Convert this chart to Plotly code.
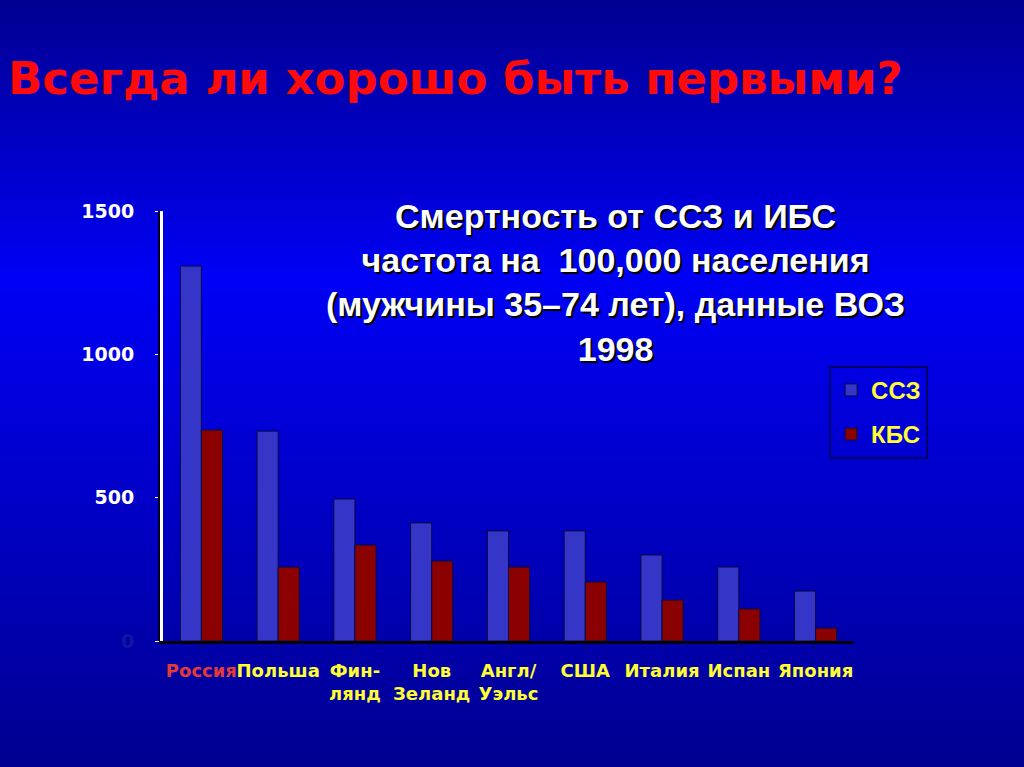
import plotly.graph_objects as go

# data
countries = ["Россия", "Польша", "Фин-<br>лянд", "Нов<br>Зеланд", "Англ/<br>Уэльс",
             "США", "Италия", "Испан", "Япония"]
label_colors = ["#e23a3a"] + ["#ffff33"] * 8
ssz = [1308, 732, 495, 412, 384, 384, 300, 258, 174]
kbs = [736, 258, 335, 279, 258, 206, 143, 112, 45]
y_ticks = [0, 500, 1000, 1500]

W, H = 1024, 767
L, R, T, B = 163, 170, 211, 126
pw, ph = W - L - R, H - T - B

fig = go.Figure()
fig.add_trace(go.Bar(x=list(range(len(countries))), y=ssz, name="<b>ССЗ</b>", legendgroup="a",
                     marker=dict(color="#3535c8", line=dict(color="#0a0a40", width=1))))
fig.add_trace(go.Bar(x=list(range(len(countries))), y=kbs, name="<b>КБС</b>", legendgroup="b",
                     marker=dict(color="#8b0000", line=dict(color="#0a0a40", width=1))))

# vertical gradient background: dark navy top/bottom, bright blue around y=280px
def bg(p):
    peak = 280
    if p < peak:
        t = p / peak
        return (0, 0, int(0x92 + (0xf5 - 0x92) * t))
    t = (p - peak) / (H - peak)
    return (0, 0, int(0xf5 - (0xf5 - 0x90) * t))

shapes = []
step = 6
for p in range(0, H, step):
    r, g, b = bg(p + step / 2)
    shapes.append(dict(type="rect", xref="paper", yref="paper", layer="below",
                       x0=-L / pw, x1=(W - L) / pw,
                       y0=(H - B - p - step) / ph, y1=(H - B - p) / ph,
                       fillcolor=f"rgb({r},{g},{b})", line=dict(width=0)))
# dark shadow to the left of the white y axis
shapes.append(dict(type="line", xref="x domain", yref="paper", xsizemode="pixel",
                   xanchor=0, x0=-4, x1=-4, y0=0, y1=1,
                   line=dict(color="#000020", width=2)))

fig.update_layout(
    width=W, height=H, margin=dict(l=L, r=R, t=T, b=B),
    paper_bgcolor="#0000c0", plot_bgcolor="rgba(0,0,0,0)",
    barmode="group", bargap=0.45, bargroupgap=0,
    shapes=shapes, showlegend=True,
    legend=dict(x=0.964, y=0.64, xanchor="left", yanchor="top",
                bgcolor="rgba(0,0,0,0)", bordercolor="#00006a", borderwidth=2,
                font=dict(family="Liberation Sans", size=24, color="#ffff33"),
                tracegroupgap=10, traceorder="grouped", itemwidth=30),
    font=dict(family="DejaVu Sans"),
)

fig.update_xaxes(
    range=[-0.5, len(countries) - 0.5], tickmode="array",
    tickvals=list(range(len(countries))),
    ticktext=[f"<span style='color:{c}'><b>{t}</b></span>" for t, c in zip(countries, label_colors)],
    tickfont=dict(family="DejaVu Sans", size=18, color="#ffff33"),
    tickangle=0, showline=True, linecolor="#000010", linewidth=3,
    ticks="outside", tickson="boundaries", ticklen=6, tickcolor="#101050",
    ticklabelstandoff=5, showgrid=False, zeroline=False,
)
fig.update_yaxes(
    range=[0, 1500], tickmode="array", tickvals=y_ticks,
    ticktext=["<span style='color:#1414a0'><b>0</b></span>"] + [f"<b>{v}</b>" for v in y_ticks[1:]],
    tickfont=dict(family="DejaVu Sans", size=19, color="white"),
    showline=True, linecolor="white", linewidth=4,
    ticks="outside", ticklen=4, tickcolor="white", ticklabelstandoff=17,
    showgrid=False, zeroline=False,
)

fig.add_annotation(xref="paper", yref="paper", x=-157 / pw, y=(H - B - 78) / ph,
                   xanchor="left", yanchor="middle", showarrow=False,
                   text="<b>Всегда ли хорошо быть первыми?</b>",
                   font=dict(family="DejaVu Sans", size=45, color="#ff0a0a"))
fig.add_annotation(xref="paper", yref="paper", x=(615 - L) / pw, y=(H - B - 195) / ph,
                   xanchor="center", yanchor="top", showarrow=False, align="center",
                   text="<b>Смертность от ССЗ и ИБС<br>частота на  100,000 населения<br>"
                        "(мужчины 35–74 лет), данные ВОЗ<br>1998</b>",
                   font=dict(family="Liberation Sans", size=34, color="white",
                             shadow="2px 2px 0px black"))

fig.write_html("out.html", config={"displayModeBar": False},
               post_script="document.body.style.margin='0';")
